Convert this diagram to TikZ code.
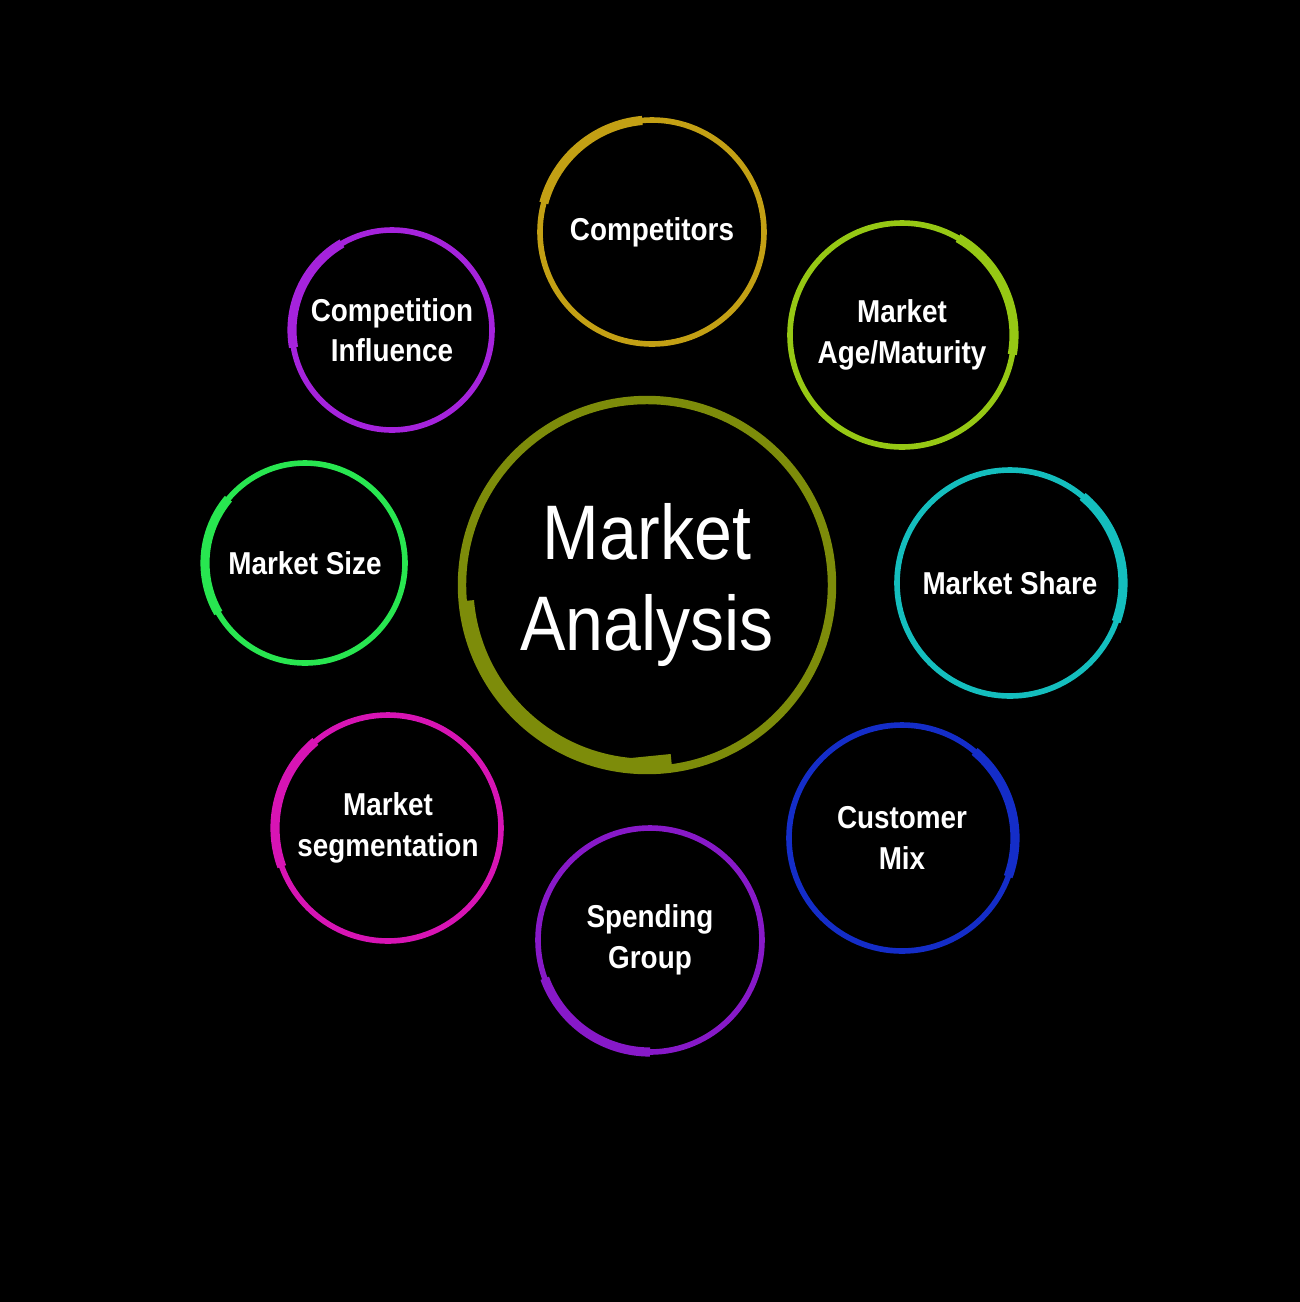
\documentclass[tikz,border=0pt]{standalone}
\usepackage{fontspec}
\setmainfont{Liberation Sans}
\usetikzlibrary{calc}
\begin{document}
\begin{tikzpicture}[x=0.01cm,y=-0.01cm,
  ring/.style={line width=1.6pt},
  pen/.style={line width=2.6pt},
  lbl/.style={text=white,font=\bfseries\fontsize{9}{11.5}\selectfont,align=center,inner sep=0pt,xscale=0.88}]
\definecolor{cMain}{RGB}{125,140,10}
\definecolor{cComp}{RGB}{195,160,20}
\definecolor{cAge}{RGB}{150,200,20}
\definecolor{cShare}{RGB}{20,190,190}
\definecolor{cMix}{RGB}{20,45,200}
\definecolor{cSpend}{RGB}{135,25,200}
\definecolor{cSeg}{RGB}{215,20,180}
\definecolor{cSize}{RGB}{40,230,80}
\definecolor{cInfl}{RGB}{165,35,220}
\fill[black] (0,0) rectangle (1300,1302);
\useasboundingbox (0,0) rectangle (1300,1302);
% center
\coordinate (M) at (647,585);
\draw[cMain,line width=2.4pt] (M) circle (185);
\draw[cMain,line width=3.6pt] ($(M)+(-185:180)$) arc (-185:-265:180) -- ++(40,-4);
\node[lbl,font=\fontsize{22}{26}\selectfont,xscale=1] (main) at (M) {Market\\Analysis};
% satellites: x/y/radius/color/name/text/start angle
\foreach \x/\y/\r/\c/\n/\t/\a in {
  652/232/112/cComp/comp/Competitors/-95,
  902/335/112/cAge/age/{Market\\Age/Maturity}/10,
  1010/583/113/cShare/share/Market Share/20,
  902/838/113/cMix/mix/{Customer\\Mix}/20,
  650/940/112/cSpend/spend/{Spending\\Group}/-200,
  388/828/113/cSeg/seg/{Market\\segmentation}/-130,
  305/563/100/cSize/size/Market Size/-140,
  392/330/100/cInfl/infl/{Competition\\Influence}/-120}{
  \draw[ring,\c] (\x,\y) circle (\r);
  \draw[pen,\c] (\x,\y) ++(\a:\r) arc (\a:\a-70:\r);
  \node[lbl] (\n) at (\x,\y) {\t};
}
\end{tikzpicture}
\end{document}
